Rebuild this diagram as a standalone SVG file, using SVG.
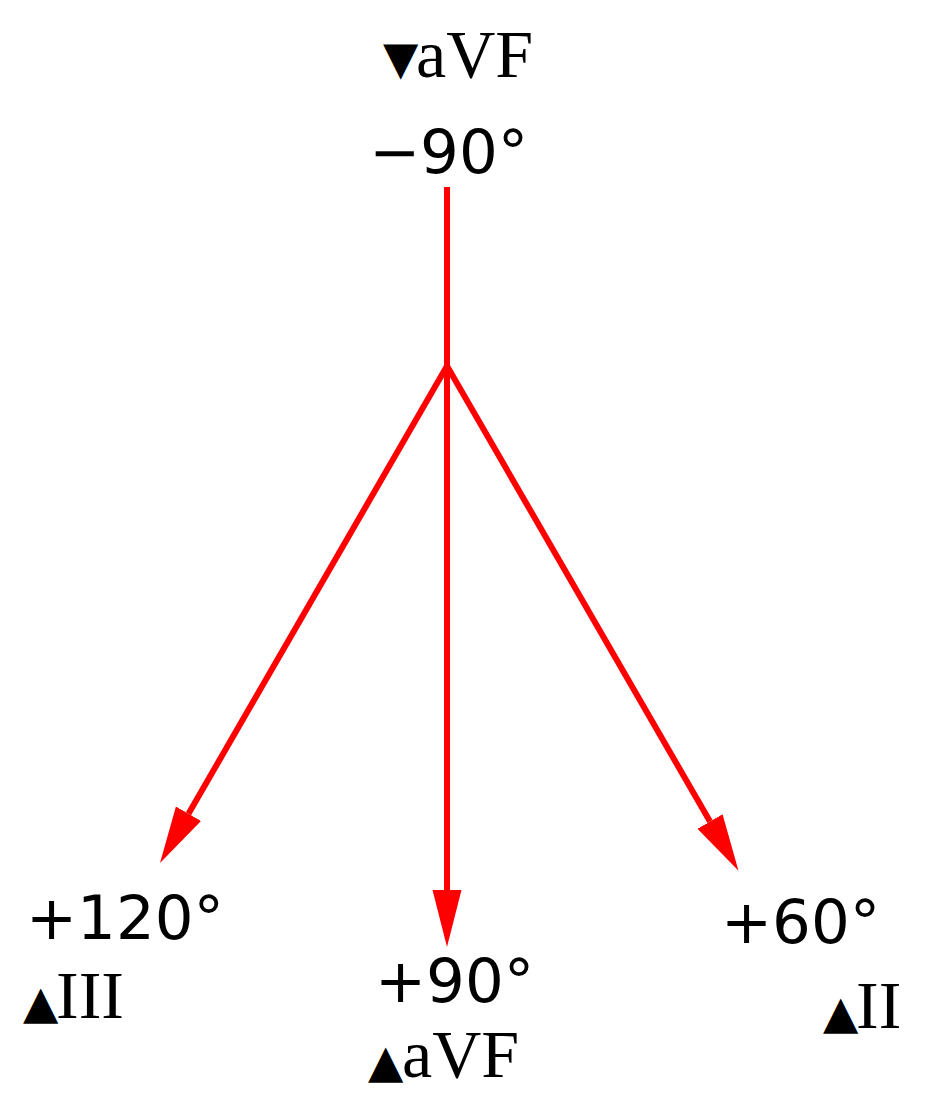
<svg xmlns="http://www.w3.org/2000/svg" width="938" height="1103" viewBox="0 0 938 1103">
<style>
.deg{font-family:"DejaVu Sans",sans-serif;font-size:61px;fill:#000}
.lead{font-family:"Liberation Serif",serif;font-size:68px;fill:#000}
.tri{font-family:"DejaVu Sans",sans-serif;font-size:46px;fill:#000}
.ax{stroke:#ff0000;stroke-width:6;fill:none}
</style>
<defs>
<marker id="ah" viewBox="0 -15 58 30" markerWidth="58" markerHeight="30" refX="0" refY="0" orient="auto" markerUnits="userSpaceOnUse">
<path d="M0,-14.5 L57,0 L0,14.5 Z" fill="#ff0000"/>
</marker>
</defs>
<g id="connectors">
<line class="ax" x1="447" y1="187" x2="447" y2="366"/>
<line class="ax" x1="447" y1="366" x2="447" y2="890" marker-end="url(#ah)"/>
<line class="ax" x1="447" y1="366" x2="710" y2="821.5" marker-end="url(#ah)"/>
<line class="ax" x1="447" y1="366" x2="188.5" y2="813.7" marker-end="url(#ah)"/>
</g>
<g id="top-label">
<text class="tri" x="383" y="74">▼</text>
<text class="lead" x="416" y="77">aVF</text>
<text class="deg" x="369" y="173">−90°</text>
</g>
<g id="left-label">
<text class="deg" x="26" y="939">+120°</text>
<text class="tri" x="23" y="1018">▲</text>
<text class="lead" x="56" y="1018">III</text>
</g>
<g id="bottom-label">
<text class="deg" x="375" y="1002">+90°</text>
<text class="tri" x="368" y="1077">▲</text>
<text class="lead" x="402" y="1077">aVF</text>
</g>
<g id="right-label">
<text class="deg" x="721" y="943">+60°</text>
<text class="tri" x="823" y="1028">▲</text>
<text class="lead" x="856" y="1028">II</text>
</g>
</svg>
